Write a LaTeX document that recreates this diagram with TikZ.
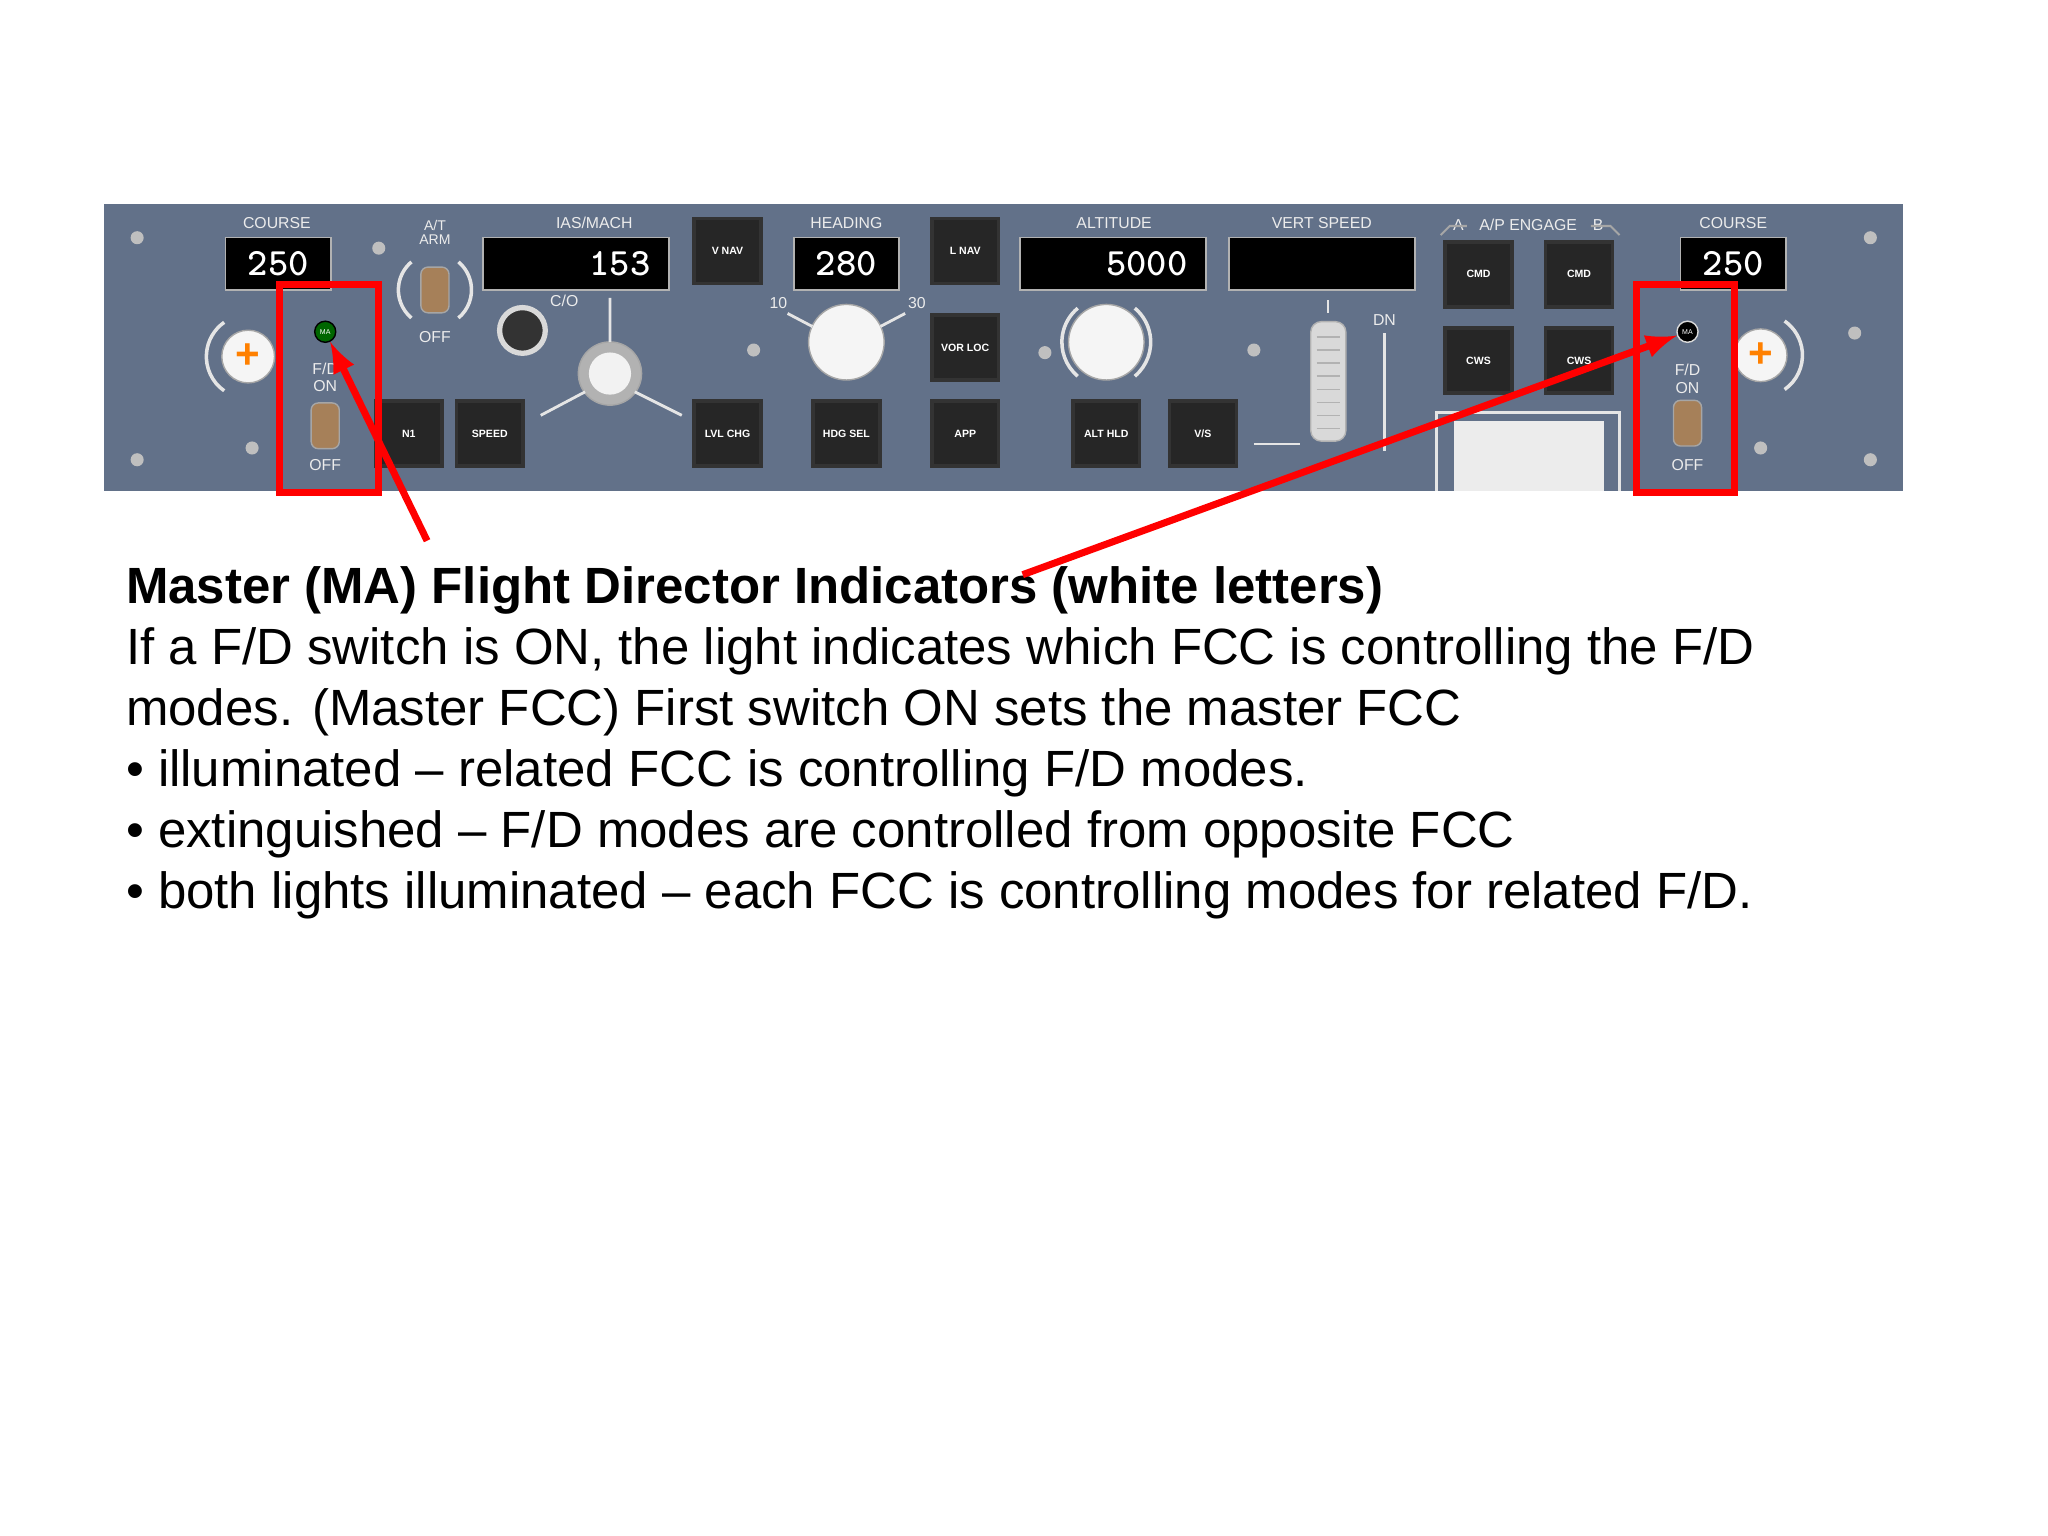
\documentclass[tikz,border=0pt]{standalone}
\usepackage{fontspec}
\setmainfont{Liberation Sans}
\begin{document}
\begin{tikzpicture}[x=0.013061cm,y=-0.013061cm,
 disp/.style={fill=black,draw=gray!60,line width=0.5pt,inner sep=0pt},
 dig/.style={text=white,font=\fontsize{11}{11}\selectfont\ttfamily\bfseries},
 btn/.style={fill=black!85,draw=black!60!gray,line width=1pt,minimum width=19pt,minimum height=18.5pt,text=white,font=\fontsize{3}{3.5}\selectfont\bfseries,inner sep=0pt},
 lbl/.style={text=white!85!gray,font=\fontsize{4.5}{5}\selectfont},
 knob/.style={fill=white!92!gray,draw=gray!70,inner sep=0pt},
 ring/.style={white!80!gray,line width=1pt},
 redbox/.style={draw=red,line width=2pt},
 redarrow/.style={draw=red,line width=2pt,-latex},
 body/.style={anchor=north west,align=left,inner sep=0pt,font=\fontsize{14.5}{17.4}\selectfont}]
\useasboundingbox (0,0) rectangle (1568,1176);
\fill[white] (0,0) rectangle (1568,1176);
\fill[fill={rgb,255:red,98;green,113;blue,137}] (80,156) rectangle (1457,376);
\foreach \p in {(105,182),(105,352),(1432,182),(1432,352),(290,190),(193,343),(577,268),(800,270),(960,268),(1348,343),(1420,255)}
  \fill[gray!50] \p circle (5);
% displays
\node[lbl] (lc) at (212,171) {COURSE};
\node[disp,minimum width=30pt,minimum height=15pt] (d1) at (213,202) {};
\node[dig] at (d1) {250};
\node[lbl,align=center,font=\fontsize{4}{4}\selectfont] (at) at (333,178) {A/T\\ARM};
\node[lbl] (ias) at (455,171) {IAS/MACH};
\node[disp,minimum width=53pt,minimum height=15pt] (d2) at (441,202) {};
\node[dig,anchor=east] at ([xshift=-2pt]d2.east) {153};
\node[lbl] (hd) at (648,171) {HEADING};
\node[disp,minimum width=30pt,minimum height=15pt] (d3) at (648,202) {};
\node[dig] at (d3) {280};
\node[lbl] (alt) at (853,171) {ALTITUDE};
\node[disp,minimum width=53pt,minimum height=15pt] (d4) at (852,202) {};
\node[dig,anchor=east] at ([xshift=-2pt]d4.east) {5000};
\node[lbl] (vs) at (1012,171) {VERT SPEED};
\node[disp,minimum width=53pt,minimum height=15pt] (d5) at (1012,202) {};
\node[lbl] (ape) at (1170,172) {A\quad A/P ENGAGE\quad B};
\draw[gray!70,line width=0.6pt] (1103,180) -- (1110,173) -- (1123,173);
\draw[gray!70,line width=0.6pt] (1218,173) -- (1233,173) -- (1240,180);
\node[lbl] (rc) at (1327,171) {COURSE};
\node[disp,minimum width=30pt,minimum height=15pt] (d6) at (1327,202) {};
\node[dig] at (d6) {250};
% buttons
\node[btn] (vnav) at (557,192) {V NAV};
\node[btn] (lnav) at (739,192) {L NAV};
\node[btn] (vorloc) at (739,266) {VOR LOC};
\node[btn] (n1) at (313,332) {N1};
\node[btn] (spd) at (375,332) {SPEED};
\node[btn] (lvl) at (557,332) {LVL CHG};
\node[btn] (hdg) at (648,332) {HDG SEL};
\node[btn] (app) at (739,332) {APP};
\node[btn] (alth) at (847,332) {ALT HLD};
\node[btn] (vsb) at (921,332) {V/S};
\node[btn] (cmda) at (1132,210) {CMD};
\node[btn] (cmdb) at (1209,210) {CMD};
\node[btn] (cwsa) at (1132,276) {CWS};
\node[btn] (cwsb) at (1209,276) {CWS};
% knobs
\node[circle,knob,minimum size=15pt] (k1) at (190,273) {};
\node[text=orange,font=\bfseries\large] at (k1) {+};
\draw[ring] (k1) ++(125:32) arc[start angle=125,end angle=235,radius=32];
\node[circle,knob,minimum size=15pt] (k2) at (1348,272) {};
\node[text=orange,font=\bfseries\large] at (k2) {+};
\draw[ring] (k2) ++(55:32) arc[start angle=55,end angle=-55,radius=32];
\node[circle,knob,minimum size=21.5pt] (k3) at (648,262) {};
\node[circle,knob,minimum size=21.5pt] (k4) at (847,262) {};
\draw[ring] (k4) ++(130:34) arc[start angle=130,end angle=230,radius=34];
\draw[ring] (k4) ++(50:34) arc[start angle=50,end angle=-50,radius=34];
\node[circle,knob,fill=gray!60,minimum size=18pt] (k5) at (467,286) {};
\node[circle,fill=white!90!gray,minimum size=12pt] at (k5) {};
\draw[ring,line width=0.8pt] (414,318) -- (448,300) (486,300) -- (522,318) (467,262) -- (467,228);
\draw[ring,line width=0.8pt] (603,240) -- (622,250) (693,240) -- (674,250);
\node[circle,fill=black!80,draw=gray!30,line width=1.5pt,minimum size=13pt] (co) at (400,253) {};
\node[lbl] at (432,230) {C/O};
\node[lbl] at (596,232) {10};
\node[lbl] at (702,232) {30};
% AT switch
\node[rounded corners=2,fill=gray!40!brown,draw=gray!70,minimum width=8pt,minimum height=13pt] (ats) at (333,222) {};
\draw[ring] (ats) ++(130:28) arc[start angle=130,end angle=230,radius=28];
\draw[ring] (ats) ++(50:28) arc[start angle=50,end angle=-50,radius=28];
\node[lbl] at (333,258) {OFF};
% vert wheel
\node[rounded corners=3,fill=gray!30,draw=gray!60,minimum width=10pt,minimum height=34pt] (vw) at (1017,292) {};
\foreach \yy in {258,268,278,288,298,308,318,328} \draw[gray!60] (1008,\yy) -- (1026,\yy);
\draw[ring,line width=0.6pt] (960,340) -- (995,340) (1017,230) -- (1017,240) (1060,255) -- (1060,345);
\node[lbl] at (1060,245) {DN};
\draw[ring] (1100,376) -- (1100,316) -- (1240,316) -- (1240,376);
\fill[white!85!gray] (1113,322) rectangle (1228,376);
% FD left
\node[circle,fill=green!40!black,draw=black,minimum size=6pt,inner sep=0pt,font=\fontsize{2}{2}\selectfont,text=white] (ma1) at (249,254) {MA};
\node[lbl,align=center] at (249,289) {F/D\\ON};
\node[rounded corners=2,fill=gray!40!brown,draw=gray!70,minimum width=8pt,minimum height=13pt] (fs1) at (249,326) {};
\node[lbl] at (249,356) {OFF};
% FD right
\node[circle,fill=black,draw=gray!30,minimum size=6pt,inner sep=0pt,font=\fontsize{2}{2}\selectfont,text=white] (ma2) at (1292,254) {MA};
\node[lbl,align=center] at (1292,290) {F/D\\ON};
\node[rounded corners=2,fill=gray!40!brown,draw=gray!70,minimum width=8pt,minimum height=13pt] (fs2) at (1292,324) {};
\node[lbl] at (1292,356) {OFF};
% red boxes
\draw[redbox] (214,218) rectangle (290,377);
\draw[redbox] (1253,218) rectangle (1328,377);
% text
\node[body] (txt) at (96,433) {\textbf{Master (MA) Flight Director Indicators (white letters)}\\
If a F/D switch is ON, the light indicates which FCC is controlling the F/D\\
modes. (Master FCC) First switch ON sets the master FCC\\
• illuminated – related FCC is controlling F/D modes.\\
• extinguished – F/D modes are controlled from opposite FCC\\
• both lights illuminated – each FCC is controlling modes for related F/D.};
\coordinate (s1) at (327,414);
\coordinate (s2) at (783,440);
\draw[redarrow] (s1) -- (ma1);
\draw[redarrow] (s2) -- (ma2);
\end{tikzpicture}
\end{document}
